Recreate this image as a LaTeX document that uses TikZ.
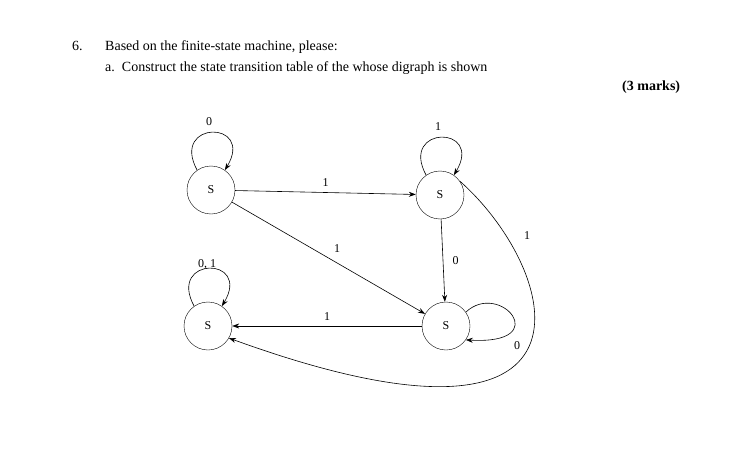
\documentclass[tikz,border=0pt]{standalone}
\usepackage{fontspec}
\setmainfont{Liberation Serif}
\usetikzlibrary{arrows.meta}
\begin{document}
\begin{tikzpicture}[x=1pt,y=-1pt,
  st/.style={circle,draw,minimum size=48pt,inner sep=0pt,font=\fontsize{12}{14}\selectfont},
  lb/.style={font=\fontsize{12}{14}\selectfont},
  tx/.style={font=\fontsize{14}{16}\selectfont,anchor=base west,inner sep=0pt},
  ar/.style={-{Stealth[length=7pt,width=5pt]},semithick}]
\useasboundingbox (0,0) rectangle (755,452);
\node[tx] (n) at (72,51) {6.};
\node[tx] (t1) at (105,51) {Based on the finite-state machine, please:};
\node[tx] (t2) at (105,71) {a.\ \ Construct the state transition table of the whose digraph is shown};
\node[tx,font=\fontsize{14}{16}\selectfont\bfseries] (m) at (622,90) {(3 marks)};
\node[st] (a) at (211,190) {S};
\node[st] (b) at (440,195) {S};
\node[st] (c) at (446,326) {S};
\node[st] (d) at (208,326) {S};
\draw[ar] (a.125) .. controls (170,120) and (255,120) .. (a.55);
\node[lb] (la) at (209,122) {0};
\draw[ar] (b.125) .. controls (399,125) and (484,125) .. (b.55);
\node[lb] (lb1) at (438,127) {1};
\draw[ar] (d.125) .. controls (167,256) and (252,256) .. (d.55);
\node[lb] (ld) at (207,264) {0, 1};
\draw[ar] (c.35) .. controls (500,280) and (555,345) .. (c.-35);
\node[lb] (lc) at (517,346) {0};
\draw[ar] (a) -- (b) node[lb,midway,above=2pt] {1};
\draw[ar] (a) -- (c) node[lb,pos=0.5,above right=2pt] {1};
\draw[ar] (b) -- (c) node[lb,midway,right=6pt] {0};
\draw[ar] (c) -- (d) node[lb,midway,above=2pt] {1};
\draw[ar] (b.35) .. controls (560,270) and (620,480) .. (d.-30);
\node[lb] (le) at (527,236) {1};
\end{tikzpicture}
\end{document}
